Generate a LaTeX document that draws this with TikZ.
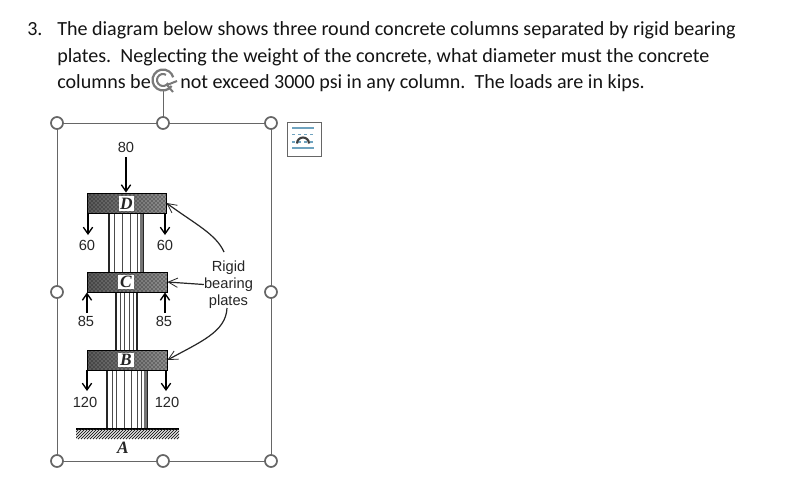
\documentclass[tikz,border=0pt]{standalone}
\usepackage{fontspec}
\usetikzlibrary{patterns,arrows.meta}
\setmainfont{Carlito}
\newfontfamily\lab{Liberation Sans}
\newfontfamily\serifl{Liberation Serif}
\definecolor{hgray}{HTML}{666666}
\definecolor{rotgray}{HTML}{7A7A7A}
\definecolor{iconblue}{HTML}{6FA3BF}
\tikzset{
 x=0.75pt,y=-0.75pt,
 line/.style={anchor=base west,inner sep=0,font=\fontsize{15.05pt}{18pt}\selectfont,text=black!92},
 lbl/.style={inner sep=0,font=\lab\fontsize{11pt}{13pt}\selectfont,text=black!85},
 letter/.style={inner sep=0pt,minimum width=11.5pt,minimum height=11pt,fill=white,font=\serifl\bfseries\itshape\fontsize{13pt}{14pt}\selectfont,text=black!85},
 handle/.style={circle,draw=hgray,fill=white,line width=1.3pt,minimum size=9pt,inner sep=0},
 frameedge/.style={draw=hgray,line width=0.75pt},
 plate/.style={draw=black,line width=0.7pt,inner sep=0,minimum height=15pt,
   preaction={shade,left color=black!65,middle color=black!15,right color=black!45},
   pattern=crosshatch dots,pattern color=black},
 force/.style={draw=black,line width=1.1pt,-{Straight Barb[length=5pt,width=7pt,line width=1pt]}},
 pointer/.style={draw=black!85,line width=0.9pt,-{Straight Barb[length=7pt,width=7pt,line width=0.6pt]}},
 stripe/.style={draw=black!70,line width=0.5pt},
 colside/.style={draw=black!85,line width=1pt},
}
\begin{document}
\begin{tikzpicture}
\useasboundingbox[fill=white] (0,0) rectangle (800,497);
% question text
\node[line] (n3) at (27,35) {3.};
\node[line] (l1) at (57,35) {The diagram below shows three round concrete columns separated by rigid bearing};
\node[line] (l2) at (57,62) {plates.\ \ Neglecting the weight of the concrete, what diameter must the concrete};
\node[line] (l3a) at (57,88) {columns be};
\node[line] (l3b) at (180,88) {not exceed 3000 psi in any column.\ \ The loads are in kips.};
% selection frame
\coordinate (tl) at (57,123); \coordinate (tm) at (163,123); \coordinate (tr) at (271,123);
\coordinate (ml) at (57,292); \coordinate (mr) at (271,292);
\coordinate (bl) at (57,461); \coordinate (bm) at (163,461); \coordinate (br) at (271,461);
\draw[frameedge] (tl) rectangle (br);
\coordinate (rot) at (163,91);
\draw[frameedge] (rot) -- (tm);
% rotate handle
\draw[rotgray,line width=1.7pt] (163,80) ++(35:10.5) arc (35:345:10.5);
\draw[rotgray,line width=1.5pt] (163,80) ++(30:6) arc (30:300:6);
\draw[rotgray,line width=1.5pt] (167,85) -- (177,81) (167,85) -- (173,92);
\foreach \p/\n in {tl/a,tm/b,tr/c,ml/d,mr/e,bl/f,bm/g,br/h}
  \node[handle] (h\n) at (\p) {};
% layout icon
\draw[hgray,line width=0.7pt,fill=white] (287,122) rectangle (321,156);
\draw[iconblue,line width=1pt] (292,128) -- (314,128) (292,148) -- (314,148);
\draw[iconblue,line width=0.8pt,dash pattern=on 2.5pt off 2pt] (292,134.5) -- (314,134.5) (292,142) -- (314,142);
\draw[black!75,line width=1.6pt] (297,143.5) arc (180:360:6 and 6);
% columns
\foreach \xa/\xb/\ya/\yb/\lst in {109/143/213/272/{114,122,130,137},116/137/292/350/{120,124,129,133},107/147/370/429/{112,116,124,131,137,141}}{
  \fill[white] (\xa,\ya) rectangle (\xb,\yb);
  \draw[colside] (\xa,\ya) -- (\xa,\yb) (\xb,\ya) -- (\xb,\yb);
  \foreach \s in \lst \draw[stripe] (\s,\ya) -- (\s,\yb);
}
\fill[black!55] (140,213) rectangle (143,272);
\fill[black!55] (144,370) rectangle (147,429);
% plates
\node[plate,minimum width=59.25pt] (D) at (126.5,203) {};
\node[plate,minimum width=60pt] (C) at (127,282) {};
\node[plate,minimum width=60pt] (B) at (127,360) {};
\node[letter] (Dl) at (126.5,203.5) {D};
\node[letter] (Cl) at (126,282) {C};
\node[letter] (Bl) at (126,360) {B};
% ground
\draw[black,line width=0.8pt] (76,429) -- (179,429);
\begin{scope}
\clip (76,429) rectangle (179,439);
\foreach \i in {66,69,...,180} \draw[black!85,line width=0.7pt] (\i,439) -- (\i+10,429);
\end{scope}
\node[letter,fill=none] (A) at (123,448) {A};
% load labels
\node[lbl] (f80) at (126,147) {80};
\node[lbl] (d60l) at (87,245) {60};
\node[lbl] (d60r) at (165,245) {60};
\node[lbl] (c85l) at (86,321) {85};
\node[lbl] (c85r) at (164,321) {85};
\node[lbl] (b120l) at (85,402) {120};
\node[lbl] (b120r) at (167,402) {120};
% load arrow end points
\coordinate (p60l) at (88,235); \coordinate (p60r) at (165,235);
\coordinate (p85l) at (87,313); \coordinate (p85r) at (165,313);
\coordinate (p120l) at (87,391); \coordinate (p120r) at (166,391);
\coordinate (p80) at (126,157);
% load arrows
\draw[force] (p80) -- (D.north -| p80);
\draw[force] (D.south west -| p60l) -- (p60l);
\draw[force] (D.south east -| p60r) -- (p60r);
\draw[force] (p85l) -- (C.south west -| p85l);
\draw[force] (p85r) -- (C.south east -| p85r);
\draw[force] (B.south west -| p120l) -- (p120l);
\draw[force] (B.south east -| p120r) -- (p120r);
% callout
\node[lbl,align=center,font=\lab\fontsize{11pt}{12.75pt}\selectfont] (rbp) at (228.5,284.5) {Rigid\\bearing\\plates};
\draw[pointer] (224,252) .. controls (216,234) and (195,224) .. (D.east);
\draw[pointer] (rbp.west) -- (C.east);
\draw[pointer] (227,308) .. controls (226,332) and (200,342) .. (B.east);
\end{tikzpicture}
\end{document}
